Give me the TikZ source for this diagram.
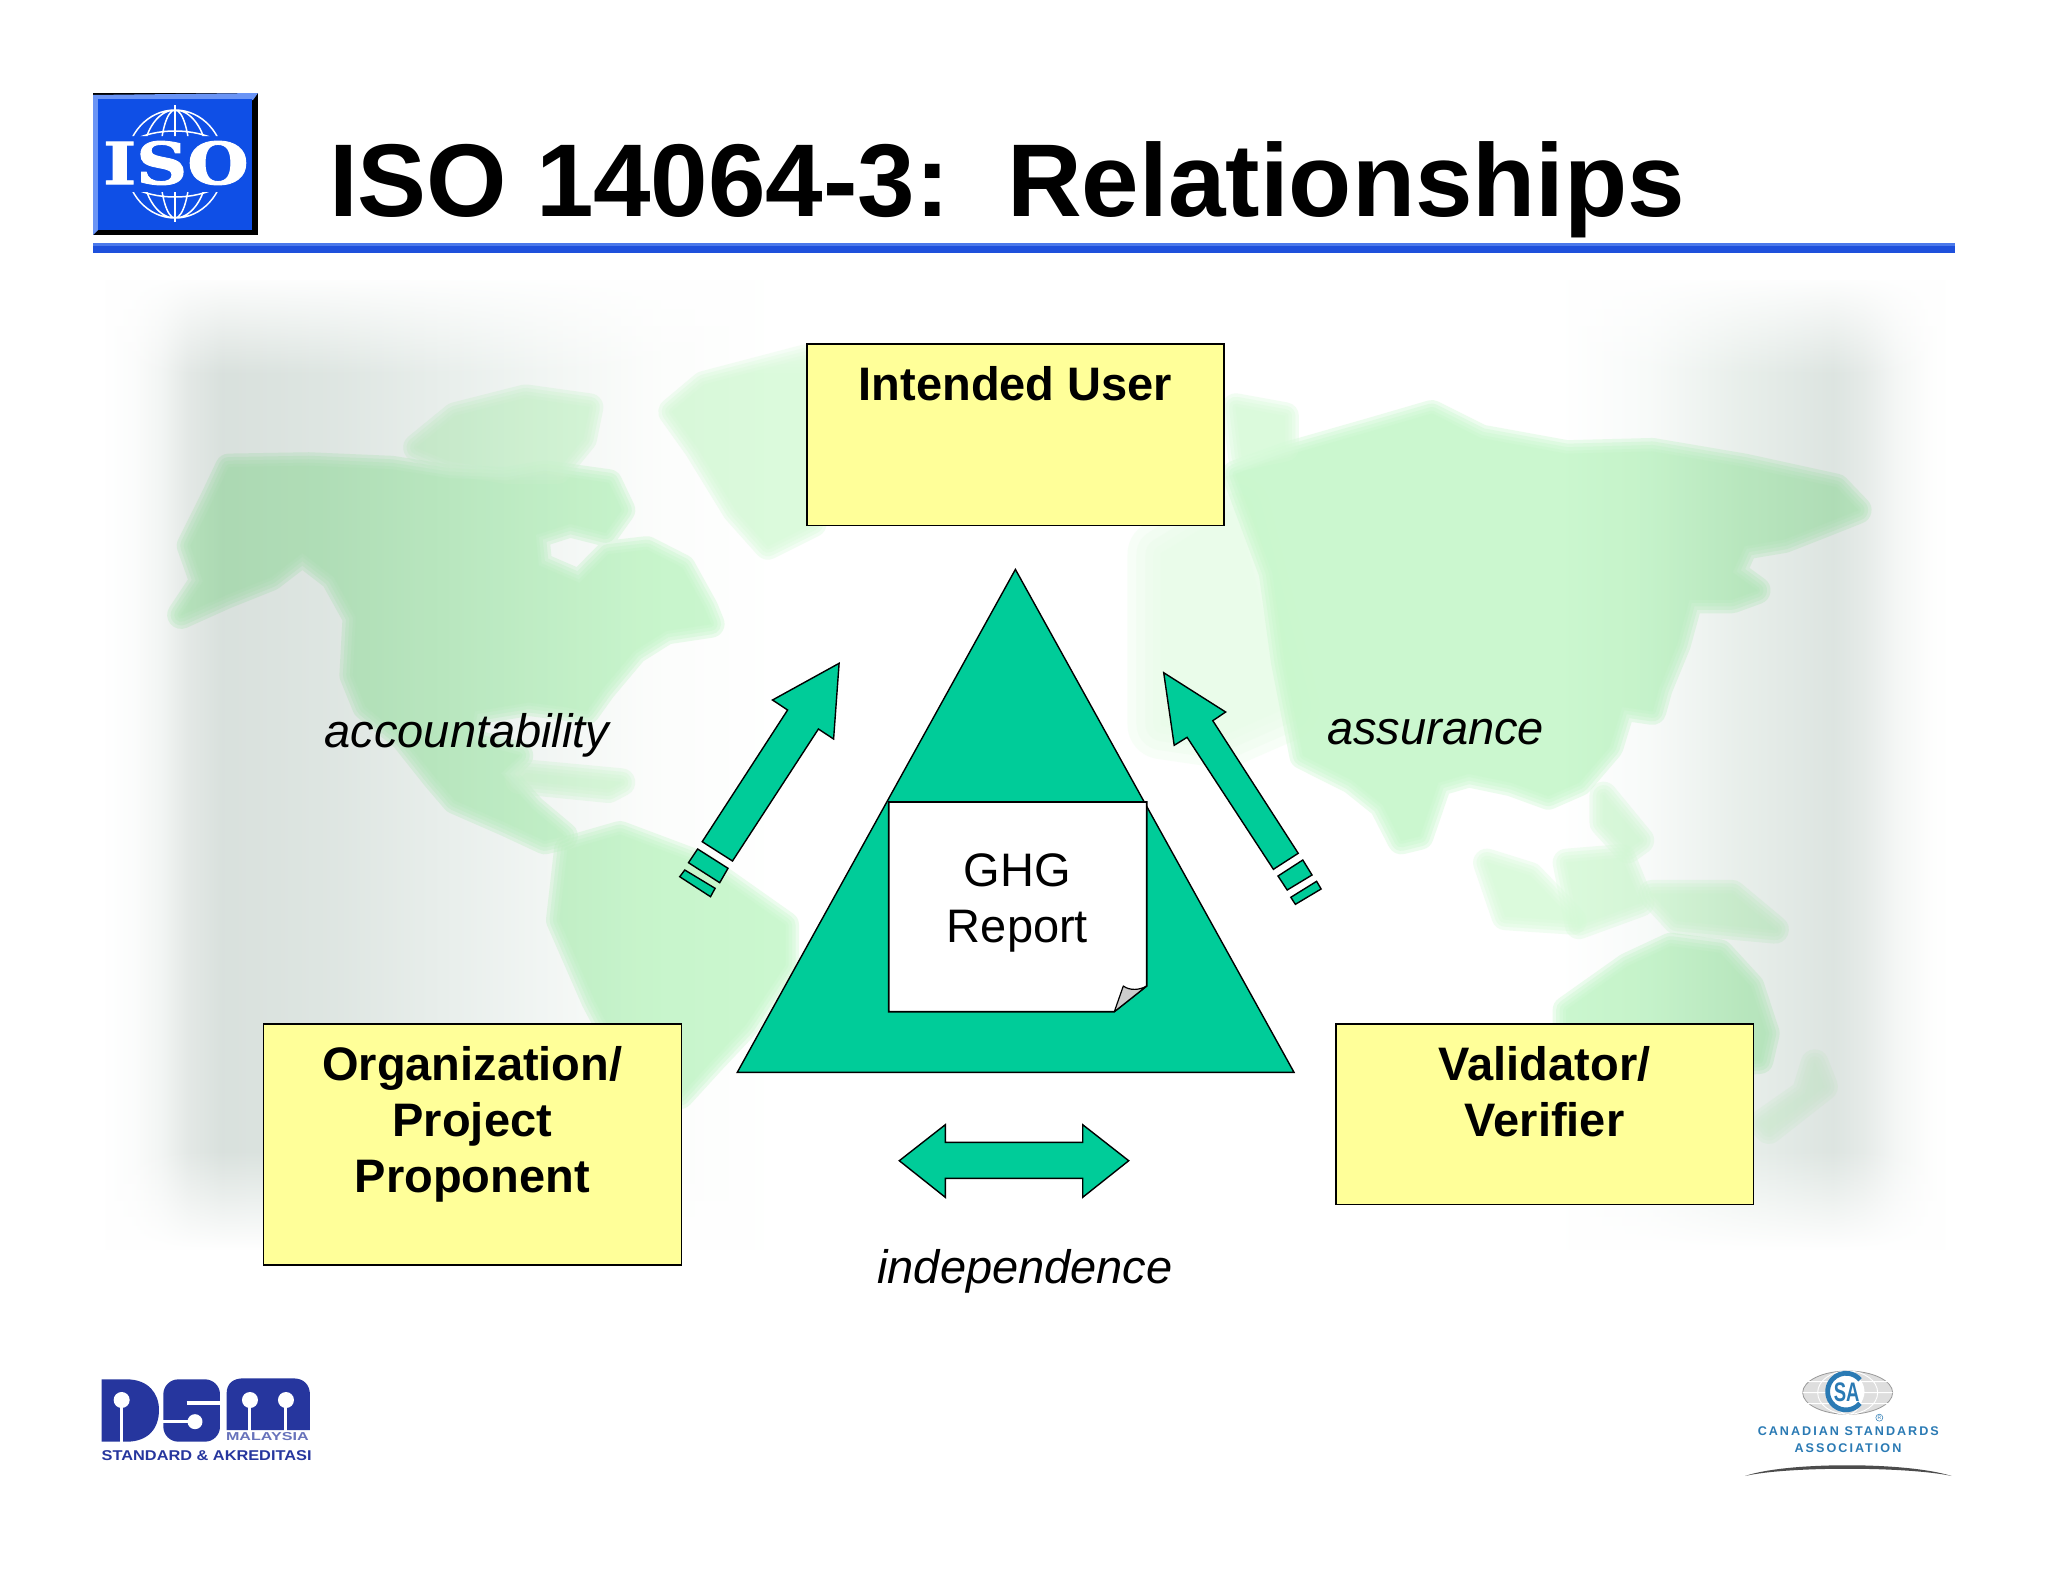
\documentclass[tikz,border=0pt]{standalone}
\usepackage{fontspec}
\setmainfont{Liberation Sans}
\newfontfamily\isofont[BoldFeatures={FakeBold=1.6}]{DejaVu Serif}
\newfontfamily\csafont[LetterSpace=16]{Liberation Sans}
\usetikzlibrary{fadings}
\definecolor{tgreen}{HTML}{00CC99}
\definecolor{byellow}{HTML}{FFFF99}
\definecolor{mapgreen}{RGB}{197,247,201}
\definecolor{midgreen}{RGB}{214,250,216}
\definecolor{palegreen}{RGB}{232,252,232}
\definecolor{isoblue}{HTML}{0F4FE6}
\definecolor{isolight}{HTML}{6A94F5}
\definecolor{ruleblue}{HTML}{1E50DC}
\definecolor{dsmblue}{HTML}{26369E}
\definecolor{csablue}{HTML}{2A7AB4}
\pgfdeclarehorizontalshading{leftband}{100bp}{
 rgb(0bp)=(1,1,1); rgb(25bp)=(1,1,1); rgb(27.5bp)=(.985,.988,.986); rgb(29.5bp)=(.95,.96,.955); rgb(31.5bp)=(.89,.91,.90);
 rgb(34bp)=(.85,.88,.865); rgb(41.9bp)=(.87,.90,.885); rgb(54.4bp)=(.93,.95,.94);
 rgb(65.4bp)=(.985,.99,.985); rgb(75bp)=(1,1,1); rgb(100bp)=(1,1,1)}
\pgfdeclarehorizontalshading{rightband}{100bp}{
 rgb(0bp)=(1,1,1); rgb(25bp)=(1,1,1); rgb(36.5bp)=(.97,.98,.975); rgb(48bp)=(.91,.935,.92);
 rgb(60bp)=(.865,.895,.88); rgb(64bp)=(.90,.92,.91); rgb(68bp)=(.955,.965,.96); rgb(72bp)=(.99,.992,.99); rgb(75bp)=(1,1,1); rgb(100bp)=(1,1,1)}
\newcommand\softblob[2]{\foreach \w in {28,21,14,7,1}{\begin{scope}[transparency group,opacity=.33]\path[fill=#1,draw=#1,line width=\w pt,line join=round] #2;\end{scope}}}
\newcommand\wideblob[2]{\foreach \w in {70,52,34,18,4}{\begin{scope}[transparency group,opacity=.33]\path[fill=#1,draw=#1,line width=\w pt,line join=round] #2;\end{scope}}}
\tikzset{
 yellowbox/.style={draw=black,fill=byellow,line width=1.6pt,inner sep=0pt,font=\fontsize{47}{56}\selectfont\bfseries},
 greenshape/.style={draw=black,fill=tgreen,line width=1.4pt,line join=miter},
 italiclabel/.style={anchor=base,inner sep=0pt,font=\fontsize{47}{56}\selectfont\itshape},
 plainlabel/.style={anchor=base,inner sep=0pt,font=\fontsize{47}{56}\selectfont}
}
\begin{document}
\begin{tikzpicture}[x=1pt,y=-1pt]
\useasboundingbox (0,0) rectangle (2048,1582);
\fill[white] (0,0) rectangle (2048,1582);
% --- map
\begin{scope}[shift={(60,260)},x=.6378pt,y=-.4464pt]
 \softblob{mapgreen}{(265,465)--(390,462)--(520,470)--(610,490)--(700,495)--(760,480)--(860,500)--(880,560)--(855,610)--(800,590)--(745,615)--(750,685)--(815,725)--(860,660)--(920,650)--(975,690)--(1010,780)--(1020,815)--(950,830)--(900,875)--(850,960)--(825,1010)--(790,1000)--(735,990)--(650,1010)--(640,1080)--(720,1110)--(690,1150)--(740,1230)--(790,1290)--(760,1300)--(700,1260)--(620,1210)--(590,1160)--(540,1070)--(480,1000)--(460,930)--(465,800)--(430,710)--(380,655)--(330,710)--(260,750)--(190,795)--(225,720)--(205,640)--(240,540)--cycle}
 \softblob{midgreen}{(560,420)--(620,350)--(730,310)--(830,330)--(820,400)--(780,470)--(700,470)--(610,450)--cycle}
 \softblob{midgreen}{(960,340)--(1010,280)--(1170,220)--(1180,590)--(1110,640)--(1060,560)--(1000,420)--cycle}
 \softblob{midgreen}{(730,1150)--(880,1170)--(860,1185)--(720,1165)--cycle}
\end{scope}
\softblob{mapgreen}{(568,850)--(620,835)--(700,865)--(785,925)--(785,965)--(745,1025)--(712,1060)--(680,1095)--(640,1085)--(595,1000)--(560,920)--cycle}
\begin{scope}[shift={(1040,260)},x=.6124pt,y=-.4464pt]
 \wideblob{palegreen}{(200,660)--(320,560)--(400,1000)--(300,1060)--(200,1040)--cycle}
 \softblob{mapgreen}{(320,480)--(400,440)--(540,385)--(640,345)--(720,400)--(860,435)--(1000,430)--(1150,465)--(1300,510)--(1335,560)--(1280,590)--(1215,625)--(1150,640)--(1130,700)--(1170,740)--(1130,760)--(1060,760)--(1040,860)--(1010,960)--(1000,1010)--(950,1000)--(930,1090)--(880,1170)--(830,1200)--(770,1170)--(700,1150)--(650,1170)--(620,1290)--(590,1300)--(560,1220)--(510,1165)--(430,1110)--(400,900)--(380,700)--cycle}
 \softblob{midgreen}{(320,330)--(400,350)--(400,420)--(330,440)--cycle}
 \softblob{midgreen}{(730,1350)--(800,1380)--(870,1480)--(760,1470)--cycle}
 \softblob{midgreen}{(860,1350)--(950,1340)--(980,1440)--(880,1490)--cycle}
 \softblob{midgreen}{(1000,1420)--(1130,1420)--(1200,1500)--(1040,1480)--cycle}
 \softblob{midgreen}{(920,1200)--(980,1300)--(960,1320)--(920,1260)--cycle}
\end{scope}
\begin{scope}[shift={(1040,900)},x=.6124pt,y=-.3333pt]
 \softblob{mapgreen}{(860,330)--(960,200)--(1030,140)--(1110,160)--(1160,260)--(1185,400)--(1175,480)--(1000,500)--(860,420)--cycle}
 \softblob{palegreen}{(1265,490)--(1280,560)--(1190,690)--(1180,670)--(1250,580)--cycle}
\end{scope}
% --- vignette
\begin{scope}[blend mode=multiply]
 \shade[shading=leftband] (100,280) rectangle (780,1262);
 \shade[shading=rightband] (1560,280) rectangle (1950,1262);
\end{scope}
\fill[white,path fading=south] (80,275) rectangle (1970,375);
\fill[white,path fading=north] (80,1150) rectangle (1970,1250);
\fill[white] (80,1250) rectangle (1970,1300);
% --- logo ISO
\fill[black] (93,93) rectangle (258,235);
\fill[isolight] (93,235) -- (93,95) -- (258,93) -- (253,100) -- (98,100) -- (98,230) -- cycle;
\fill[isoblue] (98,99) rectangle (252,230);
\begin{scope}
 \clip (120,105) rectangle (230,136) (120,192) rectangle (230,222);
 \draw[white,line width=1.5pt] (175,164) ellipse (49 and 54) ellipse (33 and 54) ellipse (15 and 54) ellipse (60 and 33);
 \draw[white,line width=1.5pt] (175,105) -- (175,222);
\end{scope}
\node[text=white,inner sep=0pt,xscale=1.07,yscale=.88,font=\fontsize{66}{70}\isofont\bfseries] (isomark) at (176,163) {ISO};
% --- title and rule
\fill[ruleblue] (93,243) rectangle (1955,253);
\fill[isolight!60!ruleblue] (93,243) rectangle (1955,245.5);
\node[anchor=base west,inner sep=0pt,font=\fontsize{103.4}{110}\selectfont\bfseries] (title) at (329,216.7) {ISO 14064-3:\ \ Relationships};
% --- boxes
\node[yellowbox,minimum width=417.5pt,minimum height=181.6pt] (user) at (1015.5,434.8)
 {\parbox[c][181.6pt][t]{417pt}{\centering\vspace*{17.5pt}\strut Intended User\par}};
\node[yellowbox,minimum width=418pt,minimum height=241pt] (org) at (472.3,1144.5)
 {\parbox[c][241pt][t]{417pt}{\centering\vspace*{17.5pt}\strut Organization/\\Project\\Proponent\par}};
\node[yellowbox,minimum width=417.6pt,minimum height=180.7pt] (val) at (1544.6,1114.3)
 {\parbox[c][180.7pt][t]{417pt}{\centering\vspace*{17.5pt}\strut Validator/\\Verifier\par}};
% --- triangle
\draw[greenshape] (1015.4,569.4) -- (1294,1072.3) -- (737.3,1072.3) -- cycle;
% --- report
\draw[fill=white,line width=1.6pt,line join=miter] (888.7,802) -- (1146.7,802) -- (1146.7,986) -- (1114.3,1011.7) -- (888.7,1011.7) -- cycle;
\draw[fill=black!20,line width=1.2pt,line join=round] (1114.3,1011.7) -- (1123.3,986) .. controls (1130,991) and (1140,990) .. (1146.7,986) -- cycle;
\node[plainlabel] (ghg) at (1017.5,886) {GHG};
\node[plainlabel] (rep) at (1017.5,942.3) {Report};
% --- left arrow
\draw[greenshape] (839.1,663.3) -- (772.5,700) -- (787.6,710) -- (702.2,841.7) -- (732.5,861) -- (818.4,729) -- (833.6,739) -- cycle;
\draw[greenshape] (697.6,849) -- (728,868.3) -- (719.7,882.7) -- (688.5,862.7) -- cycle;
\draw[greenshape] (684.8,870) -- (715.1,888.3) -- (710.5,896.7) -- (679.7,876.7) -- cycle;
% --- right arrow
\draw[greenshape] (1163.7,672.7) -- (1225.6,712) -- (1212.8,720.7) -- (1298.2,853.3) -- (1273.4,869.3) -- (1187.1,737.3) -- (1174.2,745.3) -- cycle;
\draw[greenshape] (1302.8,860) -- (1312,875) -- (1287.2,890) -- (1278,876) -- cycle;
\draw[greenshape] (1316.6,881.3) -- (1321.1,889) -- (1295.4,904.3) -- (1290.8,897.3) -- cycle;
% --- double arrow
\draw[greenshape] (899.3,1160.7) -- (945.3,1124.7) -- (945.3,1142.3) -- (1082.7,1142.3) -- (1082.7,1124.7) -- (1128.7,1160.7) -- (1082.7,1197.3) -- (1082.7,1178.3) -- (945.3,1178.3) -- (945.3,1197.3) -- cycle;
% --- italics
\node[italiclabel] (acc) at (467,747) {accountability};
\node[italiclabel] (ass) at (1435.5,744) {assurance};
\node[italiclabel] (ind) at (1025,1283.5) {independence};
% --- DSM logo
\begin{scope}[shift={(80,1350)},x=.3333pt,y=-.3333pt]
 \fill[dsmblue] (65,88) -- (140,88) .. controls (205,88) and (237,130) .. (237,180) .. controls (237,235) and (205,275) .. (140,275) -- (65,275) -- cycle;
 \fill[dsmblue,rounded corners=15pt] (250,88) rectangle (420,275);
 \fill[dsmblue] (440,240) -- (440,130) .. controls (440,100) and (460,85) .. (490,85) -- (640,85) .. controls (672,85) and (690,105) .. (690,135) -- (690,240) -- cycle;
 \draw[white,line width=3pt] (125,150) -- (125,278);
 \fill[white] (125,150) circle (8pt);
 \draw[white,line width=4pt] (320,160) -- (425,160);
 \draw[white,line width=3pt] (245,215) -- (345,215);
 \fill[white] (345,215) circle (7.5pt);
 \fill[white] (510,150) circle (8pt) (618,150) circle (8pt);
 \draw[white,line width=3pt] (510,150) -- (510,243) (618,150) -- (618,243);
 \node[text=dsmblue!70,inner sep=0pt,anchor=base,xscale=1.4,font=\fontsize{11.5}{12}\selectfont\bfseries] (dsmc) at (562,270) {MALAYSIA};
 \node[text=dsmblue,inner sep=0pt,anchor=base,xscale=1.15,font=\fontsize{14.2}{15}\selectfont\bfseries] (dsmd) at (380,330) {STANDARD \& AKREDITASI};
\end{scope}
% --- CSA logo
\begin{scope}[shift={(1720,1350)},x=.3333pt,y=-.3333pt]
 \draw[fill=black!13,draw=black!40,line width=.8pt] (383,128) ellipse (135 and 65);
 \draw[white,line width=.9pt] (383,128) ellipse (90 and 65) ellipse (45 and 65) (248,128) -- (518,128) (262,95) -- (504,95) (262,161) -- (504,161);
 \fill[white] (378,125) circle (18.5pt);
 \draw[csablue,line width=4.8pt] (420,160) arc (40:320:55);
 \node[text=csablue,inner sep=0pt,yscale=1.45,font=\fontsize{18.5}{20}\selectfont\bfseries] (csam) at (380,127) {SA};
 \draw[csablue,line width=.5pt] (478,203) circle (3.5pt);
 \node[text=csablue,inner sep=0pt,font=\fontsize{5}{6}\selectfont] (csar) at (478,203) {R};
 \node[text=csablue,inner sep=0pt,anchor=base,font=\fontsize{12.6}{13}\csafont\bfseries] (csan) at (385,255) {CANADIAN STANDARDS};
 \node[text=csablue,inner sep=0pt,anchor=base,font=\fontsize{12.6}{13}\csafont\bfseries] (csas) at (384,308) {ASSOCIATION};
 \fill[black!70] (75,378) .. controls (200,335) and (560,335) .. (695,378) .. controls (560,349) and (200,349) .. (75,378) -- cycle;
\end{scope}
\end{tikzpicture}
\end{document}
